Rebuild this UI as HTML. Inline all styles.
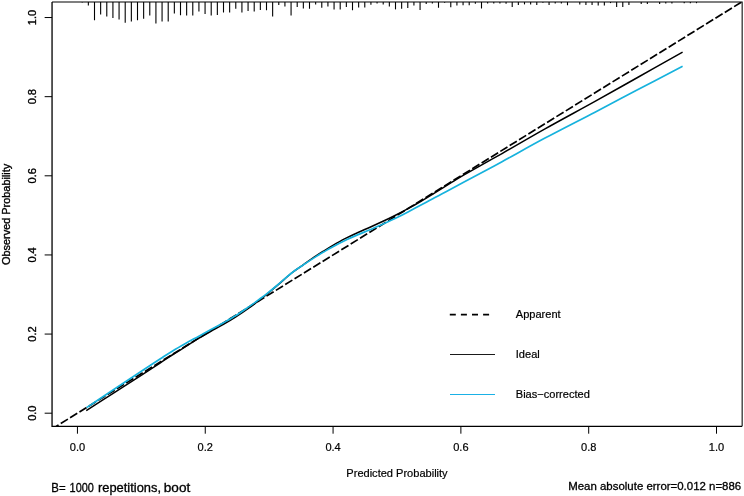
<!DOCTYPE html>
<html lang="en"><head><meta charset="utf-8"><title>Calibration plot</title>
<style>html,body{margin:0;padding:0;background:#fff}svg{display:block}text{font-family:"Liberation Sans",Arial,Helvetica,sans-serif;fill:#000;stroke:#000;stroke-width:0.2px}.r{stroke-width:0.35px}.b{stroke-width:0.3px}</style></head><body>
<svg width="744" height="496" viewBox="0 0 744 496">
<rect width="744" height="496" fill="#fff"/>
<defs><clipPath id="plt"><rect x="52.05" y="1.97" width="690.10" height="424.33"/></clipPath></defs>
<g stroke="#000" stroke-width="1.1" fill="none">
<line x1="82.21" y1="1.97" x2="82.21" y2="2.60"/>
<line x1="88.35" y1="1.97" x2="88.35" y2="5.60"/>
<line x1="94.50" y1="1.97" x2="94.50" y2="20.25"/>
<line x1="100.64" y1="1.97" x2="100.64" y2="14.40"/>
<line x1="106.78" y1="1.97" x2="106.78" y2="16.50"/>
<line x1="112.92" y1="1.97" x2="112.92" y2="18.10"/>
<line x1="119.07" y1="1.97" x2="119.07" y2="19.60"/>
<line x1="125.21" y1="1.97" x2="125.21" y2="22.75"/>
<line x1="131.35" y1="1.97" x2="131.35" y2="21.50"/>
<line x1="137.50" y1="1.97" x2="137.50" y2="20.25"/>
<line x1="143.64" y1="1.97" x2="143.64" y2="18.75"/>
<line x1="149.78" y1="1.97" x2="149.78" y2="15.60"/>
<line x1="155.92" y1="1.97" x2="155.92" y2="23.40"/>
<line x1="162.07" y1="1.97" x2="162.07" y2="21.50"/>
<line x1="168.21" y1="1.97" x2="168.21" y2="21.50"/>
<line x1="174.35" y1="1.97" x2="174.35" y2="13.50"/>
<line x1="180.50" y1="1.97" x2="180.50" y2="15.25"/>
<line x1="186.64" y1="1.97" x2="186.64" y2="15.60"/>
<line x1="192.78" y1="1.97" x2="192.78" y2="15.60"/>
<line x1="198.92" y1="1.97" x2="198.92" y2="11.60"/>
<line x1="205.07" y1="1.97" x2="205.07" y2="14.10"/>
<line x1="211.21" y1="1.97" x2="211.21" y2="15.60"/>
<line x1="217.35" y1="1.97" x2="217.35" y2="15.00"/>
<line x1="223.50" y1="1.97" x2="223.50" y2="12.50"/>
<line x1="229.64" y1="1.97" x2="229.64" y2="12.50"/>
<line x1="235.78" y1="1.97" x2="235.78" y2="8.75"/>
<line x1="241.92" y1="1.97" x2="241.92" y2="12.50"/>
<line x1="248.07" y1="1.97" x2="248.07" y2="10.90"/>
<line x1="254.21" y1="1.97" x2="254.21" y2="11.60"/>
<line x1="260.35" y1="1.97" x2="260.35" y2="10.00"/>
<line x1="266.50" y1="1.97" x2="266.50" y2="10.25"/>
<line x1="272.64" y1="1.97" x2="272.64" y2="16.50"/>
<line x1="278.78" y1="1.97" x2="278.78" y2="5.00"/>
<line x1="284.92" y1="1.97" x2="284.92" y2="6.50"/>
<line x1="291.07" y1="1.97" x2="291.07" y2="15.60"/>
<line x1="297.21" y1="1.97" x2="297.21" y2="7.10"/>
<line x1="303.35" y1="1.97" x2="303.35" y2="8.50"/>
<line x1="309.50" y1="1.97" x2="309.50" y2="8.75"/>
<line x1="315.64" y1="1.97" x2="315.64" y2="4.40"/>
<line x1="321.78" y1="1.97" x2="321.78" y2="7.75"/>
<line x1="327.92" y1="1.97" x2="327.92" y2="6.50"/>
<line x1="334.07" y1="1.97" x2="334.07" y2="9.40"/>
<line x1="340.21" y1="1.97" x2="340.21" y2="9.40"/>
<line x1="346.35" y1="1.97" x2="346.35" y2="6.90"/>
<line x1="352.50" y1="1.97" x2="352.50" y2="10.25"/>
<line x1="358.64" y1="1.97" x2="358.64" y2="7.50"/>
<line x1="364.78" y1="1.97" x2="364.78" y2="7.50"/>
<line x1="370.92" y1="1.97" x2="370.92" y2="4.75"/>
<line x1="377.07" y1="1.97" x2="377.07" y2="3.50"/>
<line x1="383.21" y1="1.97" x2="383.21" y2="4.40"/>
<line x1="389.35" y1="1.97" x2="389.35" y2="6.50"/>
<line x1="395.50" y1="1.97" x2="395.50" y2="9.40"/>
<line x1="401.64" y1="1.97" x2="401.64" y2="8.75"/>
<line x1="407.78" y1="1.97" x2="407.78" y2="8.10"/>
<line x1="413.92" y1="1.97" x2="413.92" y2="5.60"/>
<line x1="420.07" y1="1.97" x2="420.07" y2="10.00"/>
<line x1="426.21" y1="1.97" x2="426.21" y2="3.90"/>
<line x1="432.35" y1="1.97" x2="432.35" y2="3.50"/>
<line x1="438.50" y1="1.97" x2="438.50" y2="7.75"/>
<line x1="444.64" y1="1.97" x2="444.64" y2="2.75"/>
<line x1="450.78" y1="1.97" x2="450.78" y2="7.25"/>
<line x1="456.92" y1="1.97" x2="456.92" y2="5.60"/>
<line x1="463.07" y1="1.97" x2="463.07" y2="5.25"/>
<line x1="469.21" y1="1.97" x2="469.21" y2="5.25"/>
<line x1="475.35" y1="1.97" x2="475.35" y2="3.75"/>
<line x1="481.50" y1="1.97" x2="481.50" y2="8.50"/>
<line x1="487.64" y1="1.97" x2="487.64" y2="3.50"/>
<line x1="493.78" y1="1.97" x2="493.78" y2="3.50"/>
<line x1="499.92" y1="1.97" x2="499.92" y2="3.50"/>
<line x1="506.07" y1="1.97" x2="506.07" y2="3.75"/>
<line x1="512.21" y1="1.97" x2="512.21" y2="6.90"/>
<line x1="518.35" y1="1.97" x2="518.35" y2="5.00"/>
<line x1="524.50" y1="1.97" x2="524.50" y2="4.40"/>
<line x1="530.64" y1="1.97" x2="530.64" y2="4.40"/>
<line x1="536.78" y1="1.97" x2="536.78" y2="5.00"/>
<line x1="542.92" y1="1.97" x2="542.92" y2="2.75"/>
<line x1="549.07" y1="1.97" x2="549.07" y2="5.00"/>
<line x1="555.21" y1="1.97" x2="555.21" y2="3.40"/>
<line x1="561.35" y1="1.97" x2="561.35" y2="3.40"/>
<line x1="567.50" y1="1.97" x2="567.50" y2="5.25"/>
<line x1="579.78" y1="1.97" x2="579.78" y2="4.40"/>
<line x1="585.92" y1="1.97" x2="585.92" y2="5.00"/>
<line x1="592.07" y1="1.97" x2="592.07" y2="5.00"/>
<line x1="598.21" y1="1.97" x2="598.21" y2="5.60"/>
<line x1="604.35" y1="1.97" x2="604.35" y2="5.60"/>
<line x1="610.50" y1="1.97" x2="610.50" y2="3.10"/>
<line x1="616.64" y1="1.97" x2="616.64" y2="6.90"/>
<line x1="622.78" y1="1.97" x2="622.78" y2="6.90"/>
<line x1="628.92" y1="1.97" x2="628.92" y2="5.00"/>
<line x1="641.21" y1="1.97" x2="641.21" y2="4.00"/>
<line x1="647.35" y1="1.97" x2="647.35" y2="4.00"/>
<line x1="659.64" y1="1.97" x2="659.64" y2="4.00"/>
<line x1="665.78" y1="1.97" x2="665.78" y2="3.40"/>
<line x1="671.92" y1="1.97" x2="671.92" y2="3.40"/>
<line x1="684.21" y1="1.97" x2="684.21" y2="3.20"/>
<line x1="690.35" y1="1.97" x2="690.35" y2="3.20"/>
<line x1="696.50" y1="1.97" x2="696.50" y2="3.20"/>
</g>
<g clip-path="url(#plt)">
<line x1="56.10" y1="426.42" x2="742.15" y2="1.66" stroke="#000" stroke-width="1.7" stroke-dasharray="8.40 2.60" stroke-dashoffset="5.53"/>
<path d="M86.25 410.56C90.21 408.01 101.04 401.03 110.00 395.27C118.96 389.51 131.67 381.38 140.00 376.01C148.33 370.64 154.50 366.63 160.00 363.04C165.50 359.45 168.75 357.23 173.00 354.50C177.25 351.77 181.33 349.29 185.50 346.67C189.67 344.04 193.83 341.26 198.00 338.73C202.17 336.20 206.33 333.84 210.50 331.50C214.67 329.16 218.83 327.05 223.00 324.67C227.17 322.28 231.33 319.84 235.50 317.18C239.67 314.53 243.92 311.69 248.00 308.75C252.08 305.82 257.00 301.88 260.00 299.58C263.00 297.28 262.92 297.49 266.00 294.97C269.08 292.44 274.33 288.01 278.50 284.43C282.67 280.86 286.83 276.79 291.00 273.50C295.17 270.21 299.33 267.60 303.50 264.67C307.67 261.74 312.58 258.25 316.00 255.93C319.42 253.62 321.25 252.50 324.00 250.79C326.75 249.07 329.00 247.64 332.50 245.63C336.00 243.61 340.75 240.89 345.00 238.69C349.25 236.50 353.83 234.36 358.00 232.45C362.17 230.54 365.83 229.09 370.00 227.23C374.17 225.37 378.83 223.25 383.00 221.29C387.17 219.33 390.83 217.57 395.00 215.46C399.17 213.35 403.67 210.99 408.00 208.62C412.33 206.25 416.67 203.78 421.00 201.23C425.33 198.68 428.83 196.51 434.00 193.34C439.17 190.17 446.92 185.33 452.00 182.20C457.08 179.07 456.17 179.34 464.50 174.57C472.83 169.80 488.58 161.19 502.00 153.57C515.42 145.95 529.50 137.57 545.00 128.87C560.50 120.17 579.50 109.99 595.00 101.39C610.50 92.78 623.40 85.45 638.00 77.24C652.60 69.03 675.17 56.33 682.60 52.15" fill="none" stroke="#000" stroke-width="1.5"/>
<path d="M86.60 407.65C88.50 406.37 94.10 402.61 98.00 399.99C101.90 397.38 104.67 395.52 110.00 391.97C115.33 388.42 121.67 384.19 130.00 378.70C138.33 373.21 152.83 363.71 160.00 359.04C167.17 354.37 168.75 353.29 173.00 350.70C177.25 348.10 181.33 345.81 185.50 343.47C189.67 341.12 193.83 338.91 198.00 336.63C202.17 334.35 206.33 332.08 210.50 329.80C214.67 327.52 218.83 325.29 223.00 322.97C227.17 320.64 231.33 318.43 235.50 315.83C239.67 313.24 243.92 310.24 248.00 307.40C252.08 304.56 257.00 300.95 260.00 298.78C263.00 296.61 262.92 296.79 266.00 294.37C269.08 291.94 274.33 287.71 278.50 284.23C282.67 280.76 286.83 276.74 291.00 273.50C295.17 270.26 299.33 267.58 303.50 264.77C307.67 261.96 312.58 258.80 316.00 256.63C319.42 254.47 321.25 253.40 324.00 251.79C326.75 250.17 329.00 248.81 332.50 246.93C336.00 245.05 340.75 242.54 345.00 240.49C349.25 238.45 353.83 236.45 358.00 234.65C362.17 232.86 365.83 231.51 370.00 229.73C374.17 227.95 378.83 225.85 383.00 223.99C387.17 222.13 390.83 220.56 395.00 218.56C399.17 216.57 403.67 214.30 408.00 212.02C412.33 209.74 416.67 207.21 421.00 204.88C425.33 202.55 429.83 200.21 434.00 198.04C438.17 195.86 440.92 194.51 446.00 191.81C451.08 189.12 455.17 186.89 464.50 181.87C473.83 176.85 488.58 168.97 502.00 161.67C515.42 154.37 529.50 146.33 545.00 138.07C560.50 129.81 579.50 120.23 595.00 112.14C610.50 104.05 623.40 97.17 638.00 89.54C652.60 81.91 675.17 70.21 682.60 66.35" fill="none" stroke="#16b2dd" stroke-width="1.7"/>
</g>
<path d="M52.05 1.97H742.15V426.30" fill="none" stroke="#000" stroke-width="1.05"/>
<path d="M52.05 1.97V426.30H742.15" fill="none" stroke="#000" stroke-width="1.3"/>
<g stroke="#000" stroke-width="1" fill="none">
<line x1="77.45" y1="426.30" x2="77.45" y2="433.70"/>
<line x1="44.65" y1="413.20" x2="52.05" y2="413.20"/>
<line x1="205.26" y1="426.30" x2="205.26" y2="433.70"/>
<line x1="44.65" y1="334.07" x2="52.05" y2="334.07"/>
<line x1="333.07" y1="426.30" x2="333.07" y2="433.70"/>
<line x1="44.65" y1="254.94" x2="52.05" y2="254.94"/>
<line x1="460.88" y1="426.30" x2="460.88" y2="433.70"/>
<line x1="44.65" y1="175.80" x2="52.05" y2="175.80"/>
<line x1="588.69" y1="426.30" x2="588.69" y2="433.70"/>
<line x1="44.65" y1="96.67" x2="52.05" y2="96.67"/>
<line x1="716.50" y1="426.30" x2="716.50" y2="433.70"/>
<line x1="44.65" y1="17.54" x2="52.05" y2="17.54"/>
</g>
<g font-size="11.05" text-anchor="middle">
<text x="77.45" y="451.0">0.0</text>
<text x="205.26" y="451.0">0.2</text>
<text x="333.07" y="451.0">0.4</text>
<text x="460.88" y="451.0">0.6</text>
<text x="588.69" y="451.0">0.8</text>
<text x="716.50" y="451.0">1.0</text>
<text class="r" transform="translate(36.0 413.20) rotate(-90)">0.0</text>
<text class="r" transform="translate(36.0 334.07) rotate(-90)">0.2</text>
<text class="r" transform="translate(36.0 254.94) rotate(-90)">0.4</text>
<text class="r" transform="translate(36.0 175.80) rotate(-90)">0.6</text>
<text class="r" transform="translate(36.0 96.67) rotate(-90)">0.8</text>
<text class="r" transform="translate(36.0 17.54) rotate(-90)">1.0</text>
</g>
<text x="397" y="476.5" font-size="11.05" text-anchor="middle">Predicted Probability</text>
<text class="r" transform="translate(9.95 214.4) rotate(-90)" font-size="10.92" text-anchor="middle">Observed Probability</text>
<text class="b" y="492.0" font-size="12.2" lengthAdjust="spacingAndGlyphs"><tspan x="51.3" textLength="14.3" lengthAdjust="spacingAndGlyphs">B=</tspan> <tspan x="69.6" textLength="24.3" lengthAdjust="spacingAndGlyphs">1000</tspan> <tspan x="98.0" textLength="63.0" lengthAdjust="spacingAndGlyphs">repetitions,</tspan> <tspan x="163.8" textLength="26.4" lengthAdjust="spacingAndGlyphs">boot</tspan></text>
<text class="b" x="741.2" y="490.25" font-size="11.45" text-anchor="end">Mean absolute error=0.012 n=886</text>
<line x1="449.8" y1="314.7" x2="489.2" y2="314.7" stroke="#000" stroke-width="1.8" stroke-dasharray="6 5.1"/>
<line x1="450" y1="354.5" x2="495" y2="354.5" stroke="#1a1a1a" stroke-width="1"/>
<line x1="450" y1="394.5" x2="495" y2="394.5" stroke="#1ab1e6" stroke-width="1"/>
<g font-size="11.05">
<text x="515.8" y="318.4">Apparent</text>
<text x="515.8" y="358.4">Ideal</text>
<text x="515.8" y="398.3">Bias−corrected</text>
</g>
</svg></body></html>
